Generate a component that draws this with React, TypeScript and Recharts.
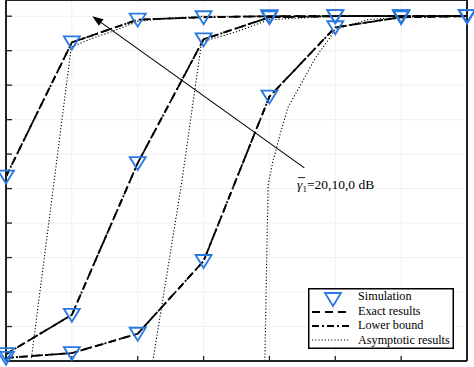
import React from 'react';
import {
  ComposedChart,
  Line,
  XAxis,
  YAxis,
  CartesianGrid,
  Legend,
  ReferenceLine,
  ReferenceDot,
} from 'recharts';

// x positions (tick index) shared by simulation / exact / lower bound
const xPoints = [0, 1, 2, 3, 4, 5, 6, 7];
const xTicks = [0, 1, 2, 3, 4, 5, 6, 7];
const yTicks = [0, 0.1, 0.2, 0.3, 0.4, 0.5, 0.6, 0.7, 0.8, 0.9, 1];

// gamma = 20 dB, 10 dB, 0 dB
const sim20 = [0.535, 0.924, 0.99, 0.997, 1, 1, 1, 1];
const sim10 = [0.02, 0.134, 0.574, 0.933, 0.997, 1, 1, 1];
const sim0 = [0.009, 0.023, 0.079, 0.29, 0.767, 0.968, 0.997, 1];

const exact20 = [0.535, 0.924, 0.99, 0.997, 1, 1, 1, 1];
const exact10 = [0.02, 0.134, 0.574, 0.933, 0.997, 1, 1, 1];
const exact0 = [0.009, 0.023, 0.079, 0.29, 0.767, 0.968, 0.997, 1];

const lower20 = [0.535, 0.924, 0.99, 0.997, 1, 1, 1, 1];
const lower10 = [0.02, 0.134, 0.574, 0.933, 0.997, 1, 1, 1];
const lower0 = [0.009, 0.023, 0.079, 0.29, 0.767, 0.968, 0.997, 1];

// asymptotic curves, read at their own x positions
const asymX20 = [0.38, 0.73, 0.99, 1.3, 1.6, 2, 2.5, 3, 7];
const asymY20 = [0, 0.52, 0.91, 0.935, 0.955, 0.985, 0.995, 1, 1];
const asymX10 = [2.23, 2.67, 2.97, 3.5, 4, 5, 7];
const asymY10 = [0, 0.52, 0.925, 0.955, 0.99, 1, 1];
const asymX0 = [3.93, 3.98, 4.05, 4.16, 4.28, 4.5, 4.7, 4.88, 5, 5.5, 6, 7];
const asymY0 = [0, 0.51, 0.577, 0.656, 0.735, 0.81, 0.88, 0.927, 0.962, 0.99, 0.997, 1];

const BLUE = '#2878e0';
const AXIS = '#222222';
const FONT = '"Liberation Serif", "DejaVu Serif", serif';

const toRows = (xs: number[], ys: number[]) => xs.map((x, i) => ({ x, y: ys[i] }));

const Triangle = (props: any) => {
  const { cx, cy } = props;
  if (cx == null || cy == null) return null;
  return (
    <path
      d={`M${cx - 8},${cy - 6} L${cx + 8},${cy - 6} L${cx},${cy + 7} Z`}
      fill="none"
      stroke={BLUE}
      strokeWidth={1.8}
    />
  );
};

const ArrowShape = (props: any) => {
  const { x1, y1, x2, y2 } = props;
  if (x1 == null) return null;
  // arrow points towards (x2, y2)
  const ang = Math.atan2(y2 - y1, x2 - x1);
  const len = 11;
  const w = 4;
  const bx = x2 - len * Math.cos(ang);
  const by = y2 - len * Math.sin(ang);
  const px = -Math.sin(ang) * w;
  const py = Math.cos(ang) * w;
  return (
    <g>
      <line x1={x1} y1={y1} x2={bx} y2={by} stroke="#000" strokeWidth={1.1} />
      <path d={`M${x2},${y2} L${bx + px},${by + py} L${bx - px},${by - py} Z`} fill="#000" />
    </g>
  );
};

const AnnotationText = (props: any) => {
  const { cx, cy } = props;
  if (cx == null) return null;
  return (
    <g>
      <line x1={cx + 1} y1={cy - 11} x2={cx + 8} y2={cy - 11} stroke="#000" strokeWidth={0.9} />
      <text x={cx} y={cy} textAnchor="start" fontFamily={FONT} fontSize={13.5} fill="#000">
        <tspan fontStyle="italic">γ</tspan>
        <tspan fontSize={9} dy={3}>1</tspan>
        <tspan dy={-3}>=20,10,0 dB</tspan>
      </text>
    </g>
  );
};

const LegendBox = () => (
  <svg width={146} height={61} style={{ display: 'block' }}>
    <rect x={0.75} y={0.75} width={144.5} height={59.5} fill="#fff" stroke="#000" strokeWidth={1.5} />
    <path d="M17,5 L33,5 L25,18 Z" fill="none" stroke={BLUE} strokeWidth={1.8} />
    <line x1={4} y1={24} x2={42} y2={24} stroke="#000" strokeWidth={1.8} strokeDasharray="8 5" />
    <line x1={4} y1={38} x2={42} y2={38} stroke="#000" strokeWidth={1.8} strokeDasharray="7 3 2 3" />
    <line x1={4} y1={52} x2={42} y2={52} stroke="#000" strokeWidth={1.1} strokeDasharray="1.2 2" />
    <g fontFamily={FONT} fontSize={12.2} fill="#000">
      <text x={50} y={12}>Simulation</text>
      <text x={50} y={27}>Exact results</text>
      <text x={50} y={41}>Lower bound</text>
      <text x={50} y={56}>Asymptotic results</text>
    </g>
  </svg>
);

const axisLine = { stroke: AXIS, strokeWidth: 2 };
const tickLine = { stroke: AXIS, strokeWidth: 1.3 };
const noLabel = () => '';

export default function App() {
  const exactSets = [exact20, exact10, exact0];
  const lowerSets = [lower20, lower10, lower0];
  const simSets = [sim20, sim10, sim0];
  const asymSets = [
    toRows(asymX20, asymY20),
    toRows(asymX10, asymY10),
    toRows(asymX0, asymY0),
  ];

  return (
    <div style={{ position: 'absolute', left: 0, top: 0, background: '#fff' }}>
      <ComposedChart width={474} height={367} margin={{ top: 0, right: 7, bottom: 6, left: 6 }}>
        <CartesianGrid stroke="#f0f0f0" strokeWidth={1} />
        <XAxis
          dataKey="x"
          type="number"
          domain={[0, 7]}
          ticks={xTicks}
          height={1}
          mirror
          tickSize={5}
          axisLine={axisLine}
          tickLine={tickLine}
          tickFormatter={noLabel}
        />
        <XAxis
          xAxisId="top"
          orientation="top"
          dataKey="x"
          type="number"
          domain={[0, 7]}
          ticks={xTicks}
          height={1}
          mirror
          tickSize={5}
          axisLine={axisLine}
          tickLine={tickLine}
          tickFormatter={noLabel}
        />
        <YAxis
          type="number"
          domain={[0, 1.047]}
          ticks={yTicks}
          width={1}
          mirror
          tickSize={6}
          axisLine={axisLine}
          tickLine={tickLine}
          tickFormatter={noLabel}
        />
        <YAxis
          yAxisId="right"
          orientation="right"
          type="number"
          domain={[0, 1.047]}
          ticks={yTicks}
          width={1}
          mirror
          tickSize={5}
          axisLine={axisLine}
          tickLine={tickLine}
          tickFormatter={noLabel}
        />

        {asymSets.map((rows, i) => (
          <Line
            key={`asym-${i}`}
            data={rows}
            dataKey="y"
            type="linear"
            stroke="#000"
            strokeWidth={1.1}
            strokeDasharray="1.2 2"
            dot={false}
            activeDot={false}
            isAnimationActive={false}
          />
        ))}
        {exactSets.map((ys, i) => (
          <Line
            key={`exact-${i}`}
            data={toRows(xPoints, ys)}
            dataKey="y"
            type="linear"
            stroke="#000"
            strokeWidth={1.8}
            strokeDasharray="8 5"
            dot={false}
            activeDot={false}
            isAnimationActive={false}
          />
        ))}
        {lowerSets.map((ys, i) => (
          <Line
            key={`lower-${i}`}
            data={toRows(xPoints, ys)}
            dataKey="y"
            type="linear"
            stroke="#000"
            strokeWidth={1.8}
            strokeDasharray="7 3 2 3"
            dot={false}
            activeDot={false}
            isAnimationActive={false}
          />
        ))}
        {simSets.map((ys, i) => (
          <Line
            key={`sim-${i}`}
            data={toRows(xPoints, ys)}
            dataKey="y"
            type="linear"
            stroke="none"
            dot={<Triangle />}
            activeDot={false}
            isAnimationActive={false}
          />
        ))}

        <ReferenceLine
          segment={[
            { x: 4.53, y: 0.56 },
            { x: 1.31, y: 1.0 },
          ]}
          shape={<ArrowShape />}
        />
        <ReferenceDot x={4.42} y={0.5} r={0} shape={<AnnotationText />} />

        <Legend
          layout="horizontal"
          verticalAlign="middle"
          align="center"
          wrapperStyle={{ position: 'absolute', left: 308, top: 288, width: 146, height: 61 }}
          content={<LegendBox />}
        />
      </ComposedChart>
    </div>
  );
}
